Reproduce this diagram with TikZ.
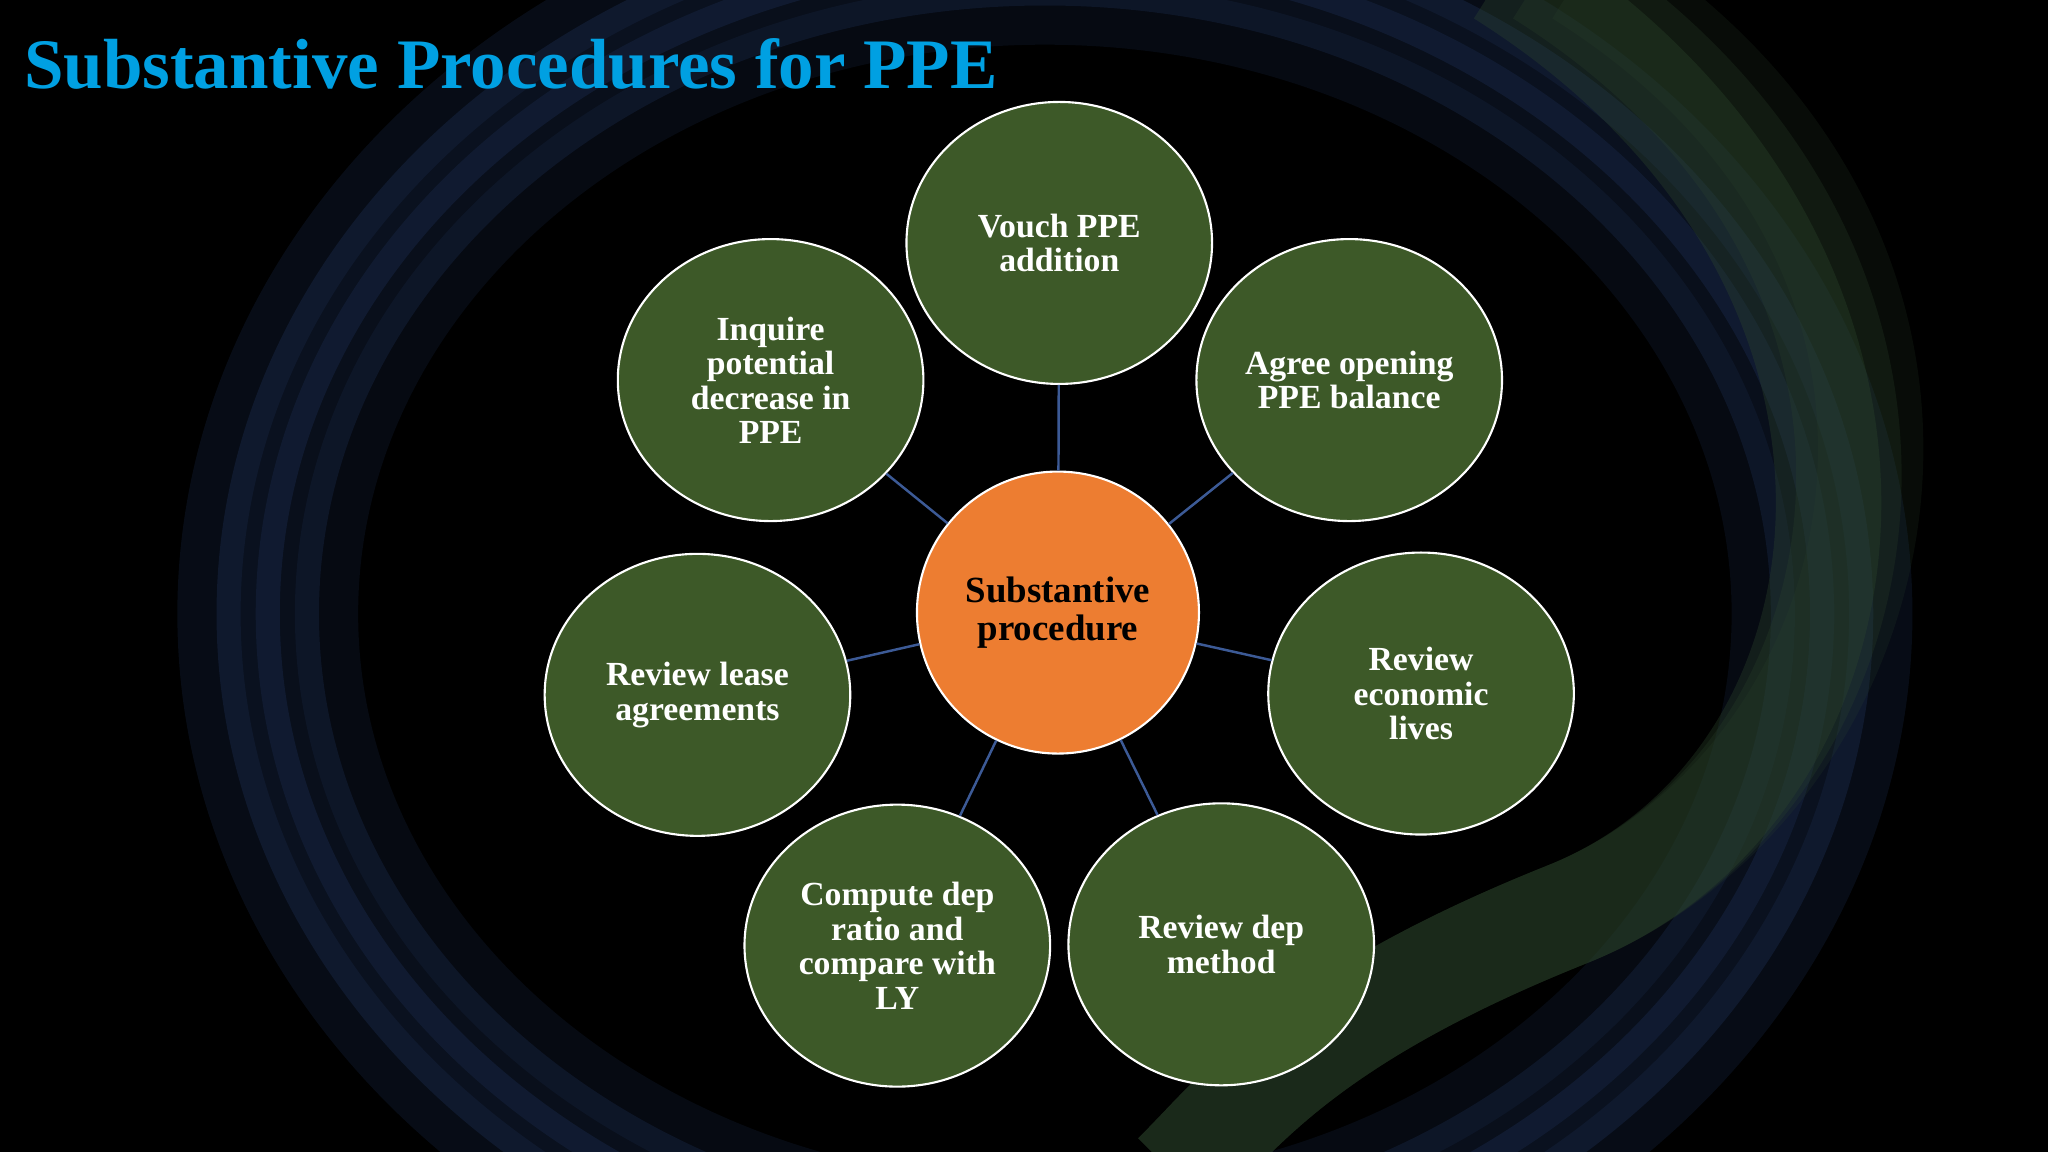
\documentclass[tikz,border=0pt]{standalone}
\usepackage{fontspec}
\setmainfont{Liberation Serif}
\usetikzlibrary{shapes.geometric}
\definecolor{leaf}{RGB}{61,89,40}
\definecolor{orng}{RGB}{237,125,49}
\definecolor{ttl}{RGB}{0,160,226}
\definecolor{lnk}{RGB}{60,90,150}
\definecolor{swb}{RGB}{30,50,90}
\definecolor{swg}{RGB}{45,70,45}
\begin{document}
\begin{tikzpicture}[x=0.01306cm,y=-0.01306cm,
  leafnode/.style={ellipse,draw=white,line width=0.6pt,fill=leaf,minimum width=3.056cm,minimum height=2.82cm,inner sep=0pt,text=white,align=center,font=\bfseries\fontsize{9.6}{9.8}\selectfont},
  link/.style={draw=lnk,line width=0.7pt}]
\fill[black] (0,0) rectangle (1568,882);
\begin{scope}
\clip (0,0) rectangle (1568,882);
\foreach \r/\o in {640/0.25,610/0.35,580/0.3,550/0.2}{
  \draw[line width=18pt,color=swb,opacity=\o] (800,470) ellipse ({\r*0.01306cm} and {(\r-90)*0.01306cm});}
\foreach \o/\s in {0.35/0,0.25/30,0.18/60}{
  \draw[line width=30pt,color=swg,opacity=\o] (1150+\s,-20) .. controls (1500+\s,200) and (1450,600) .. (1200,700) .. controls (1000,780) and (950,850) .. (900,900);}
\end{scope}
\node[anchor=base west,text=ttl,font=\bfseries\fontsize{20.2}{22}\selectfont,inner sep=0pt] (title) at (18,68) {Substantive Procedures for PPE};
\node[circle,draw=white,line width=0.6pt,fill=orng,minimum size=2.82cm,inner sep=0pt,align=center,font=\bfseries\fontsize{10.5}{11}\selectfont] (c) at (810,469) {Substantive\\procedure};
\node[leafnode] (a) at (811,186) {Vouch PPE\\addition};
\node[leafnode] (b) at (1033,291) {Agree opening\\PPE balance};
\node[leafnode] (d) at (1088,531) {Review\\economic\\lives};
\node[leafnode] (e) at (935,723) {Review dep\\method};
\node[leafnode] (f) at (687,724) {Compute dep\\ratio and\\compare with\\LY};
\node[leafnode] (g) at (534,532) {Review lease\\agreements};
\node[leafnode] (h) at (590,291) {Inquire\\potential\\decrease in\\PPE};
\foreach \n in {a,b,d,e,f,g,h}{\path[link] (c) -- (\n);}
\end{tikzpicture}
\end{document}
